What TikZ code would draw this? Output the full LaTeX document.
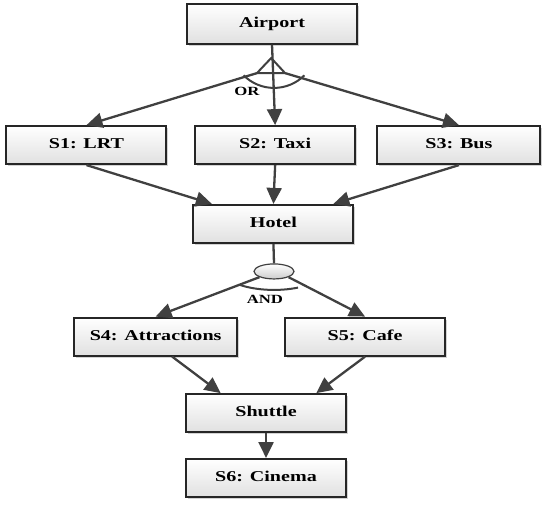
\documentclass[tikz,border=0pt]{standalone}
\usepackage{fontspec}
\setmainfont{Liberation Serif}[FakeStretch=1.34]
\usetikzlibrary{shapes,arrows.meta,calc,shadows}
\definecolor{mygray}{RGB}{64,64,64}

\begin{document}
\begin{tikzpicture}

\tikzstyle{box} = [draw, minimum width=160pt, minimum height=38pt, inner sep=0, line width=2pt,
draw=black!85, top color=white, bottom color=black!12,
drop shadow={shadow xshift=2pt, shadow yshift=-2pt, opacity=0.35},
font=\fontsize{15}{18}\selectfont\bfseries]
\tikzstyle{link} = [line width=2.3pt, draw=mygray, -{Triangle[length=16pt,width=15pt]}]
\tikzstyle{plain} = [line width=2.3pt, draw=mygray]
\tikzstyle{gatearc} = [line width=2pt, draw=mygray]
\tikzstyle{gatetxt} = [font=\fontsize{12.5}{15}\selectfont\bfseries]

\useasboundingbox (0,0) rectangle (19.33,17.75);

\node [box, minimum width=170pt, minimum height=40pt] (airport) at (9.56,16.92) {\begin{tabular}{c} Airport \end{tabular}};

\node [box] (s1) at (3.04,12.65) {\begin{tabular}{c} S1: LRT \end{tabular}};
\node [box] (s2) at (9.67,12.65) {\begin{tabular}{c} S2: Taxi \end{tabular}};
\node [box, minimum width=163pt] (s3) at (16.13,12.65) {\begin{tabular}{c} S3: Bus \end{tabular}};

\node [box] (hotel) at (9.61,9.88) {\begin{tabular}{c} Hotel \end{tabular}};

\node [ellipse, draw=mygray, line width=1.2pt, top color=white, bottom color=black!20,
minimum width=40pt, minimum height=15pt, inner sep=0] (andgate) at (9.63,8.21) {};

\node [box, minimum width=163pt] (s4) at (5.47,5.92) {\begin{tabular}{c} S4: Attractions \end{tabular}};
\node [box] (s5) at (12.83,5.92) {\begin{tabular}{c} S5: Cafe \end{tabular}};

\node [box] (shuttle) at (9.35,3.23) {\begin{tabular}{c} Shuttle \end{tabular}};
\node [box] (s6) at (9.35,0.95) {\begin{tabular}{c} S6: Cinema \end{tabular}};

% OR split
\coordinate (ortop) at (9.53,15.71);
\coordinate (orleft) at (9.03,15.18);
\coordinate (orright) at (10.02,15.18);
\draw[gatearc] (ortop) -- (orleft) -- (orright) -- cycle;
\draw[link] (airport.south) -- (s2.north);
\draw[link] (orleft) -- (s1.north);
\draw[link] (orright) -- (s3.north);
\coordinate (orc) at (9.63,16.17);
\draw[gatearc] (orc) ++(225:1.51) arc [start angle=225, end angle=315, radius=1.51];
\node[gatetxt] (ortxt) at (8.68,14.55) {OR};

\draw[link] (s1.south) -- ($(hotel.north west)!0.12!(hotel.north east)$);
\draw[link] (s2.south) -- (hotel.north);
\draw[link] (s3.south) -- ($(hotel.north west)!0.87!(hotel.north east)$);

% AND split
\draw[plain] (hotel.south) -- (andgate.north);
\draw[link] (andgate.south west) -- (s4.north);
\draw[link] (andgate.south east) -- (s5.north);
\coordinate (andc) at (9.63,8.44);
\draw[gatearc] (andc) ++(233:2.0 and 0.88) arc [start angle=233, end angle=295, x radius=2.0, y radius=0.88];
\node[gatetxt] (andtxt) at (9.31,7.24) {AND};

\draw[link] ($(s4.south west)!0.6!(s4.south east)$) -- ($(shuttle.north west)!0.22!(shuttle.north east)$);
\draw[link] (s5.south) -- ($(shuttle.north west)!0.81!(shuttle.north east)$);
\draw[link] (shuttle.south) -- (s6.north);

\end{tikzpicture}
\end{document}
